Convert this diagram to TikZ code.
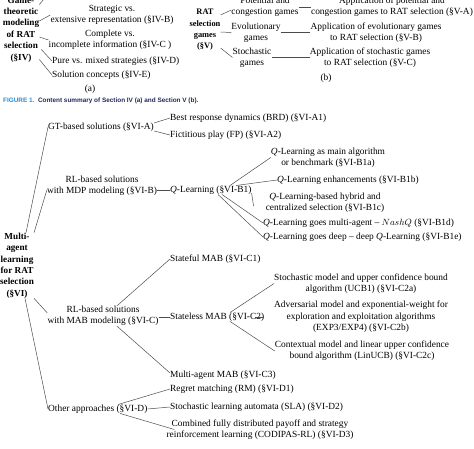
\documentclass[tikz,border=0pt]{standalone}
\usepackage{fontspec}
\setmainfont{Liberation Serif}
\setsansfont{Liberation Sans}
\usetikzlibrary{calc}
\definecolor{capblue}{HTML}{2E8BD0}
\definecolor{capnavy}{HTML}{1F2B5C}
\begin{document}
\begin{tikzpicture}[x=1pt,y=-1pt,
  txt/.style={inner sep=0pt,align=center,font=\fontsize{9.4}{11.4}\selectfont},
  lft/.style={txt,anchor=west},
  bld/.style={inner sep=0pt,align=center,font=\fontsize{9.2}{11.4}\selectfont\bfseries},
  bldb/.style={inner sep=0pt,align=center,font=\fontsize{8.4}{11.3}\selectfont\bfseries},
  conn/.style={draw=black!70,line width=0.5pt}]
\useasboundingbox (0,0) rectangle (474,449);

% ---------- (a) ----------
\node[bld] (gtm) at (21,29.5) {Game-\\theoretic\\modeling\\of RAT\\selection\\(§IV)};
\node[txt] (sa1) at (112,15) {Strategic vs.\\extensive representation (§IV-B)};
\node[txt] (sa2) at (110,40) {Complete vs.\\incomplete information (§IV-C )};
\node[lft] (sa3) at (52,61) {Pure vs. mixed strategies (§IV-D)};
\node[lft] (sa4) at (52,75) {Solution concepts (§IV-E)};
\node[txt] (la) at (90,89) {(a)};
\coordinate (up) at (44,-1);
\draw[conn] ([yshift=25pt]gtm.east) -- (up);
\draw[conn] ([yshift=8.5pt]gtm.east) -- (sa1.west);
\draw[conn] ([yshift=-7.5pt]gtm.east) -- (sa2.west);
\draw[conn] ([xshift=2pt,yshift=-20pt]gtm.east) -- (sa3.west);
\draw[conn] ([yshift=-30pt]gtm.east) -- (sa4.west);

% ---------- caption ----------
\node[anchor=west,inner sep=0pt,font=\fontsize{6.4}{7}\selectfont\sffamily\bfseries] (cap) at (3,101)
  {\textcolor{capblue}{FIGURE 1.}\ \ \textcolor{capnavy}{Content summary of Section IV (a) and Section V (b).}};

% ---------- (b) ----------
\node[bldb] (rsg) at (205,30) {RAT\\selection\\games\\(§V)};
\node[txt] (pcg) at (265,7) {Potential and\\congestion games};
\node[txt] (evo) at (256,32.5) {Evolutionary\\games};
\node[txt] (stg) at (252,57.5) {Stochastic\\games};
\node[txt] (apc) at (392,7) {Application of potential and\\congestion games to RAT selection (§V-A)};
\node[txt] (aevo) at (376,32.5) {Application of evolutionary games\\to RAT selection (§V-B)};
\node[txt] (astg) at (370,57.5) {Application of stochastic games\\to RAT selection (§V-C)};
\node[txt] (lb) at (326,78) {(b)};
\draw[conn] ([yshift=15pt]rsg.east) -- ([yshift=-3pt]pcg.west);
\draw[conn] ([yshift=-2pt]rsg.east) -- (evo.west);
\draw[conn] ([yshift=-18pt]rsg.east) -- (stg.west);
\draw[conn] (pcg.east) -- (apc.west);
\draw[conn] (evo.east) -- (aevo.west);
\draw[conn] (stg.east) -- (astg.west);

% ---------- main tree ----------
\node[bld] (mal) at (17,265.5) {Multi-\\agent\\learning\\for RAT\\selection\\(§VI)};

\node[lft] (gt) at (48,127) {GT-based solutions (§VI-A)};
\node[lft] (brd) at (170,118) {Best response dynamics (BRD) (§VI-A1)};
\node[lft] (fp) at (170,135) {Fictitious play (FP) (§VI-A2)};

\node[txt] (mdp) at (102,186) {RL-based solutions\\with MDP modeling (§VI-B)};
\node[lft] (ql) at (170,190) {\textit{Q}-Learning (§VI-B1)};
\node[txt] (qa) at (328,157.5) {\textit{Q}-Learning as main algorithm\\or benchmark (§VI-B1a)};
\node[lft] (qb) at (277,180) {\textit{Q}-Learning enhancements (§VI-B1b)};
\node[txt] (qc) at (325,203) {\textit{Q}-Learning-based hybrid and\\centralized selection (§VI-B1c)};
\node[lft] (qd) at (263,223) {\textit{Q}-Learning goes multi-agent -- $NashQ$ (§VI-B1d)};
\node[lft] (qe) at (263,237) {\textit{Q}-Learning goes deep -- deep \textit{Q}-Learning (§VI-B1e)};

\node[txt] (mab) at (103,316) {RL-based solutions\\with MAB modeling (§VI-C)};
\node[lft] (sf) at (170,259) {Stateful MAB (§VI-C1)};
\node[lft] (sl) at (170,317) {Stateless MAB (§VI-C2)};
\node[txt] (c2a) at (361,283.5) {Stochastic model and upper confidence bound\\algorithm (UCB1) (§VI-C2a)};
\node[txt] (c2b) at (361,317) {Adversarial model and exponential-weight for\\exploration and exploitation algorithms\\(EXP3/EXP4) (§VI-C2b)};
\node[txt] (c2c) at (362,351) {Contextual model and linear upper confidence\\bound algorithm (LinUCB) (§VI-C2c)};
\node[lft] (c3) at (170,375) {Multi-agent MAB (§VI-C3)};

\node[lft] (oth) at (48,409) {Other approaches (§VI-D)};
\node[lft] (d1) at (170,389) {Regret matching (RM) (§VI-D1)};
\node[lft] (d2) at (170,407) {Stochastic learning automata (SLA) (§VI-D2)};
\node[txt] (d3) at (260,429.5) {Combined fully distributed payoff and strategy\\reinforcement learning (CODIPAS-RL) (§VI-D3)};

% trunk
\draw[conn] ([xshift=9pt]mal.north) -- (gt.west);
\draw[conn] (mal.north east) -- ([yshift=-4pt]mdp.west);
\draw[conn] (mal.south east) -- ([yshift=3pt]mab.west);
\draw[conn] ([xshift=8pt]mal.south) -- (oth.west);

\draw[conn] ([yshift=4pt]gt.east) -- (brd.west);
\draw[conn] ([yshift=-4pt]gt.east) -- (fp.west);

\draw[conn] (mdp.east |- ql.west) -- (ql.west);
\draw[conn] ([xshift=60pt]ql.north west) -- (qa.west);
\draw[conn] ([xshift=66pt]ql.north west) -- (qb.west);
\draw[conn] ([yshift=-3pt]ql.east) -- ([xshift=-12pt,yshift=-3pt]qc.west);
\draw[conn] ([xshift=52pt]ql.south west) -- (qd.west);
\draw[conn] ([xshift=48pt]ql.south west) -- (qe.west);

\draw[conn] ([xshift=14pt]mab.north) -- (sf.west);
\draw[conn] (mab.east |- sl.west) -- (sl.west);
\draw[conn] ([xshift=14pt]mab.south) -- ([yshift=2pt]c3.west);
\draw[conn] ([xshift=60pt]sl.north west) -- (c2a.west);
\draw[conn] (sl.east) -- ([xshift=-19pt]c2b.west);
\draw[conn] ([xshift=60pt]sl.south west) -- (c2c.west);

\draw[conn] ([xshift=70pt]oth.north west) -- (d1.west);
\draw[conn] (oth.east) -- (d2.west);
\draw[conn] ([xshift=72pt]oth.south west) -- ([xshift=8pt]d3.west);
\end{tikzpicture}
\end{document}
